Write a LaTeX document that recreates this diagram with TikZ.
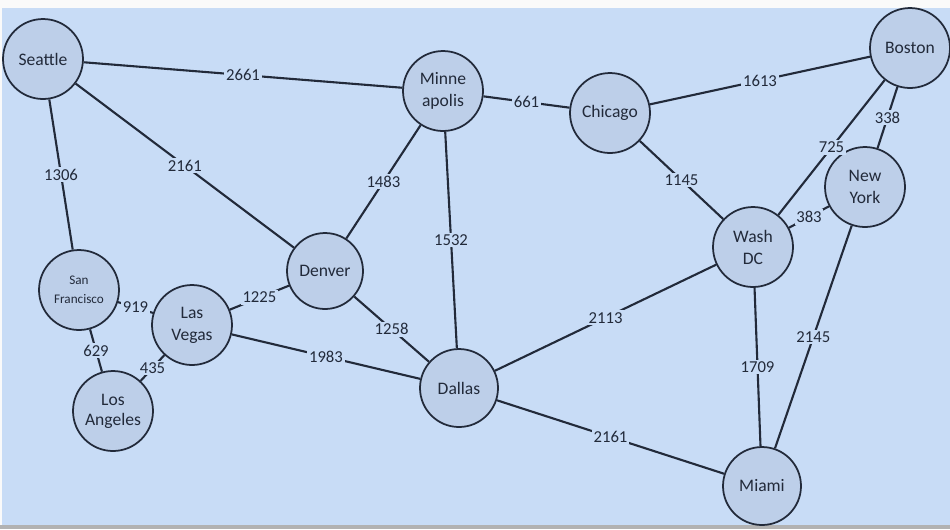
\documentclass[tikz,border=0pt]{standalone}
\usepackage{fontspec}
\setmainfont{Carlito}
\definecolor{bgblue}{RGB}{200,220,246}
\definecolor{cityfill}{RGB}{189,207,233}
\definecolor{ink}{RGB}{34,42,58}
\tikzset{
  city/.style={circle,draw=ink,line width=1pt,fill=cityfill,text=ink,
    minimum size=1.6cm,inner sep=0pt,align=center,font=\fontsize{10}{12.5}\selectfont},
  dist/.style={fill=bgblue,text=ink,inner sep=1pt,font=\fontsize{9.5}{12}\selectfont},
  road/.style={draw=ink,line width=1.2pt}
}
\begin{document}
\begin{tikzpicture}[x=0.02cm,y=-0.02cm]
% frame
\fill[white!96!gray] (0,0) rectangle (950,529);
\fill[bgblue] (2,8) rectangle (950,525);
\fill[gray!60] (0,525) rectangle (950,529);
\useasboundingbox (0,0) rectangle (950,529);
% cities
\node[city] (sea) at (43,59) {Seattle};
\node[city] (min) at (443,91) {Minne\\apolis};
\node[city] (chi) at (610,113) {Chicago};
\node[city] (bos) at (910,48) {Boston};
\node[city] (ny) at (865,187) {New\\York};
\node[city] (dc) at (753,247) {Wash\\DC};
\node[city,minimum size=1.52cm] (den) at (325,271) {Denver};
\node[city,font=\fontsize{7.5}{11}\selectfont] (sf) at (79,290) {San\\Francisco};
\node[city] (lv) at (192,325) {Las\\Vegas};
\node[city,font=\fontsize{10}{11.5}\selectfont] (la) at (113,411) {Los\\Angeles};
\node[city,minimum size=1.56cm] (dal) at (459,388) {Dallas};
\node[city,minimum size=1.56cm] (mia) at (762,486) {Miami};
% roads
\foreach \a/\b/\w in {sea/min/2661,sea/den/2161,sea/sf/1306,min/chi/661,
  min/den/1483,min/dal/1532,chi/bos/1613,chi/dc/1145,bos/ny/338,bos/dc/725,
  ny/dc/383,ny/mia/2145,dc/mia/1709,dc/dal/2113,dal/mia/2161,den/lv/1225,
  den/dal/1258,lv/dal/1983,sf/lv/919,sf/la/629,lv/la/435}
  \draw[road] (\a) -- node[dist]{\w} (\b);
\end{tikzpicture}
\end{document}
